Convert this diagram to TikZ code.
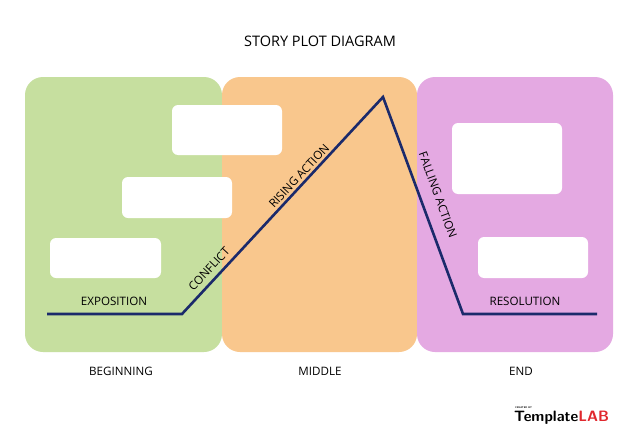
\documentclass[tikz,border=0pt]{standalone}
\usepackage{fontspec}
\setmainfont{Open Sans}
\definecolor{pgreen}{HTML}{C6DF9F}
\definecolor{porange}{HTML}{F9C78D}
\definecolor{ppurple}{HTML}{E4A9E2}
\definecolor{navy}{HTML}{1B2A6B}
\definecolor{labred}{HTML}{E0282E}
\begin{document}
\begin{tikzpicture}[x=1pt,y=-1pt,
  panel/.style={rounded corners=18pt},
  wbox/.style={fill=white,rounded corners=6pt},
  lbl/.style={font=\fontsize{11.6}{13}\selectfont,inner sep=1pt},
  plotline/.style={draw=navy,line width=2.6pt,line join=miter}]
\useasboundingbox (0,0) rectangle (638,442);
\fill[white] (0,0) rectangle (638,442);
\fill[pgreen,panel] (25,77) rectangle (222,352);
\fill[porange,panel] (222,77) rectangle (417,352);
\fill[ppurple,panel] (417,77) rectangle (613,352);
\fill[wbox] (172,105) rectangle (282,155);
\fill[wbox] (122,177) rectangle (232,218);
\fill[wbox] (50,238) rectangle (161,278);
\fill[wbox] (452,123) rectangle (562,194);
\fill[wbox] (478,237) rectangle (588,278);
\coordinate (p0) at (47,314);
\coordinate (p1) at (182,314);
\coordinate (p2) at (383,97);
\coordinate (p3) at (463,314);
\coordinate (p4) at (597,314);
\draw[plotline] (p0) -- (p1) -- (p2) -- (p3) -- (p4);
\node[lbl] (expo) at (114,301) {EXPOSITION};
\node[lbl,rotate=47] (conf) at (209,269) {CONFLICT};
\node[lbl,rotate=47] (rise) at (299,176) {RISING ACTION};
\node[lbl,rotate=-70] (fall) at (438,195) {FALLING ACTION};
\node[lbl] (reso) at (525,301) {RESOLUTION};
\node[font=\fontsize{14.5}{16}\selectfont] (title) at (320,41) {STORY PLOT DIAGRAM};
\node[lbl] (beg) at (121,371) {BEGINNING};
\node[lbl] (mid) at (320,371) {MIDDLE};
\node[lbl] (endl) at (521,371) {END};
\node[font=\fontsize{2.5}{3}\sffamily\bfseries,anchor=west,inner sep=0] (cb) at (515,408) {CREATED BY};
\node[font=\fontsize{15}{16}\sffamily\bfseries,anchor=west,inner sep=0] (tl) at (514,418) {Template\textcolor{labred}{LAB}};
\end{tikzpicture}
\end{document}
